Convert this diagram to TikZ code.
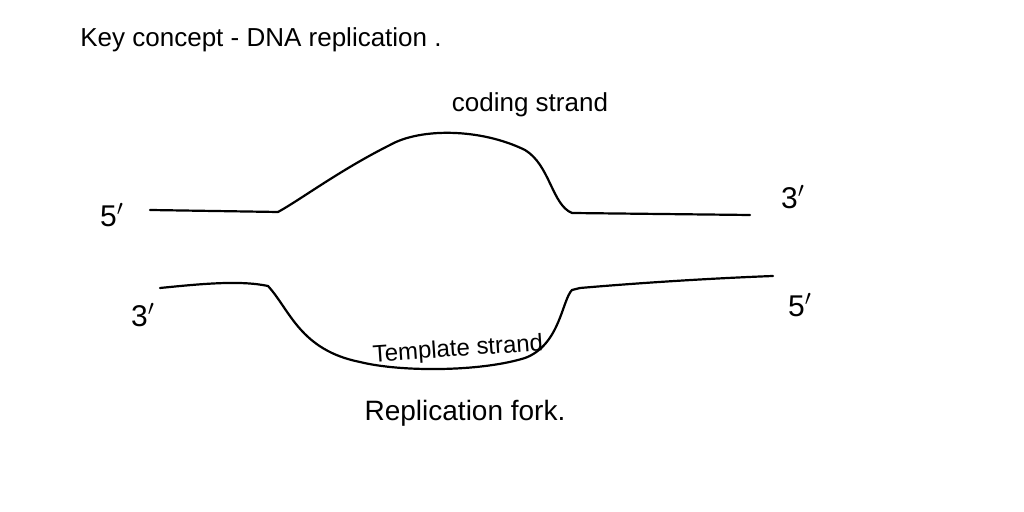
\documentclass[tikz,border=0pt]{standalone}
\usepackage{fontspec}
\setmainfont{Liberation Sans}
\begin{document}
\begin{tikzpicture}[x=0.5pt,y=-0.5pt,
  lbl/.style={inner sep=0pt,font=\fontsize{13}{15}\selectfont},
  strand/.style={line width=1.1pt,line cap=round,line join=round}]
\useasboundingbox (0,0) rectangle (1024,512);
\node[lbl,anchor=west] (title) at (80,40) {Key concept - DNA replication .};
\node[lbl] (coding) at (530,105) {coding strand};
\node[lbl,font=\fontsize{15}{17}\selectfont] (l5a) at (112,215) {5$'$};
\node[lbl,font=\fontsize{15}{17}\selectfont] (r3a) at (793,197) {3$'$};
\node[lbl,font=\fontsize{15}{17}\selectfont] (l3b) at (143,315) {3$'$};
\node[lbl,font=\fontsize{15}{17}\selectfont] (r5b) at (800,305) {5$'$};
\node[lbl,font=\fontsize{12}{14}\selectfont,rotate=4] (template) at (458,350) {Template strand};
\node[lbl,font=\fontsize{14}{16}\selectfont] (fork) at (465,413) {Replication fork.};
\draw[strand] (150,210) -- (278,212)
  .. controls (300,200) and (340,170) .. (390,145)
  .. controls (420,128) and (480,128) .. (525,150)
  .. controls (550,165) and (552,205) .. (572,213) -- (750,215);
\draw[strand] (160,288) .. controls (200,284) and (240,280) .. (268,286)
  .. controls (290,310) and (300,350) .. (360,362)
  .. controls (400,372) and (480,372) .. (525,358)
  .. controls (560,345) and (562,300) .. (572,290)
  -- (580,288) .. controls (650,282) and (720,278) .. (773,276);
\end{tikzpicture}
\end{document}
